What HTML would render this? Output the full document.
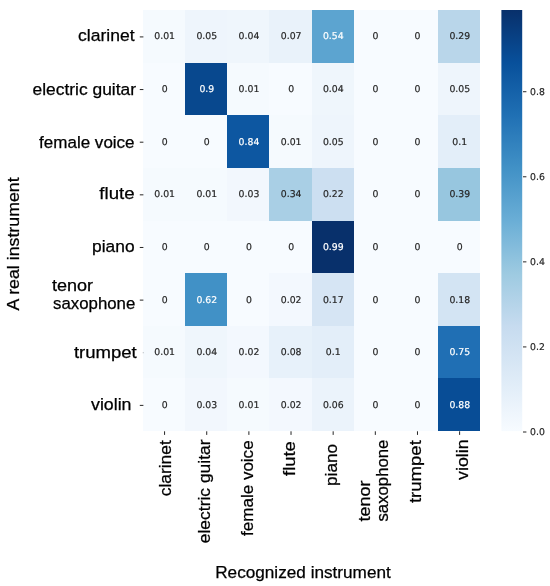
<!DOCTYPE html>
<html lang="en">
<head>
<meta charset="utf-8">
<title>Confusion matrix of recognized instruments</title>
<style>
html,body{margin:0;padding:0;background:#fff;}
body{width:550px;height:586px;overflow:hidden;}
svg{display:block;}
.ann{font-family:"DejaVu Sans","Liberation Sans",sans-serif;font-size:9.3px;text-anchor:middle;text-rendering:geometricPrecision;}
.cbt{font-family:"DejaVu Sans","Liberation Sans",sans-serif;font-size:9.3px;fill:#262626;stroke:#262626;stroke-width:0.2px;text-rendering:geometricPrecision;}
.lab{font-family:"Liberation Sans",sans-serif;font-size:16.8px;fill:#000;stroke:#000;stroke-width:0.25px;}
.tit{font-family:"Liberation Sans",sans-serif;font-size:16.9px;fill:#000;stroke:#000;stroke-width:0.25px;}
.k{fill:#262626;stroke:#262626;stroke-width:0.2px;}
.w{fill:#ffffff;stroke:#ffffff;stroke-width:0.2px;}
.tk{stroke:#262626;stroke-width:1;}
</style>
</head>
<body>
<svg width="550" height="586" viewBox="0 0 550 586">
<rect x="0" y="0" width="550" height="586" fill="#ffffff"/>

<defs><linearGradient id="blues" x1="0" y1="1" x2="0" y2="0">
<stop offset="0" stop-color="#f7fbff"/>
<stop offset="0.125" stop-color="#deebf7"/>
<stop offset="0.25" stop-color="#c6dbef"/>
<stop offset="0.375" stop-color="#9dcae1"/>
<stop offset="0.5" stop-color="#6aaed6"/>
<stop offset="0.625" stop-color="#4191c6"/>
<stop offset="0.75" stop-color="#2070b4"/>
<stop offset="0.875" stop-color="#08509b"/>
<stop offset="1" stop-color="#08306b"/>
</linearGradient></defs>

<g shape-rendering="crispEdges">
<rect x="143" y="10" width="337.2" height="421.1" fill="#f7fbff"/>
<rect x="143.00" y="10.00" width="42.15" height="52.64" fill="#f5fafe"/>
<rect x="185.15" y="10.00" width="42.15" height="52.64" fill="#eef5fc"/>
<rect x="227.30" y="10.00" width="42.15" height="52.64" fill="#eff6fc"/>
<rect x="269.45" y="10.00" width="42.15" height="52.64" fill="#e9f2fa"/>
<rect x="311.60" y="10.00" width="42.15" height="52.64" fill="#5ca4d0"/>
<rect x="438.05" y="10.00" width="42.15" height="52.64" fill="#b9d6ea"/>
<rect x="185.15" y="62.64" width="42.15" height="52.64" fill="#08488e"/>
<rect x="227.30" y="62.64" width="42.15" height="52.64" fill="#f5fafe"/>
<rect x="311.60" y="62.64" width="42.15" height="52.64" fill="#eff6fc"/>
<rect x="438.05" y="62.64" width="42.15" height="52.64" fill="#eef5fc"/>
<rect x="227.30" y="115.28" width="42.15" height="52.64" fill="#0d57a1"/>
<rect x="269.45" y="115.28" width="42.15" height="52.64" fill="#f5fafe"/>
<rect x="311.60" y="115.28" width="42.15" height="52.64" fill="#eef5fc"/>
<rect x="438.05" y="115.28" width="42.15" height="52.64" fill="#e3eef9"/>
<rect x="143.00" y="167.91" width="42.15" height="52.64" fill="#f5fafe"/>
<rect x="185.15" y="167.91" width="42.15" height="52.64" fill="#f5fafe"/>
<rect x="227.30" y="167.91" width="42.15" height="52.64" fill="#f2f7fd"/>
<rect x="269.45" y="167.91" width="42.15" height="52.64" fill="#a9cfe5"/>
<rect x="311.60" y="167.91" width="42.15" height="52.64" fill="#ccdff1"/>
<rect x="438.05" y="167.91" width="42.15" height="52.64" fill="#97c6df"/>
<rect x="311.60" y="220.55" width="42.15" height="52.64" fill="#08306b"/>
<rect x="185.15" y="273.19" width="42.15" height="52.64" fill="#4191c6"/>
<rect x="269.45" y="273.19" width="42.15" height="52.64" fill="#f3f8fe"/>
<rect x="311.60" y="273.19" width="42.15" height="52.64" fill="#d6e5f4"/>
<rect x="438.05" y="273.19" width="42.15" height="52.64" fill="#d3e4f3"/>
<rect x="143.00" y="325.83" width="42.15" height="52.64" fill="#f5fafe"/>
<rect x="185.15" y="325.83" width="42.15" height="52.64" fill="#eff6fc"/>
<rect x="227.30" y="325.83" width="42.15" height="52.64" fill="#f3f8fe"/>
<rect x="269.45" y="325.83" width="42.15" height="52.64" fill="#e7f1fa"/>
<rect x="311.60" y="325.83" width="42.15" height="52.64" fill="#e3eef9"/>
<rect x="438.05" y="325.83" width="42.15" height="52.64" fill="#206fb4"/>
<rect x="185.15" y="378.46" width="42.15" height="52.64" fill="#f2f7fd"/>
<rect x="227.30" y="378.46" width="42.15" height="52.64" fill="#f5fafe"/>
<rect x="269.45" y="378.46" width="42.15" height="52.64" fill="#f3f8fe"/>
<rect x="311.60" y="378.46" width="42.15" height="52.64" fill="#ebf3fb"/>
<rect x="438.05" y="378.46" width="42.15" height="52.64" fill="#084d96"/>
</g>

<g class="ann">
<text x="164.67" y="39.32" class="k">0.01</text>
<text x="206.82" y="39.32" class="k">0.05</text>
<text x="248.97" y="39.32" class="k">0.04</text>
<text x="291.12" y="39.32" class="k">0.07</text>
<text x="333.27" y="39.32" class="w">0.54</text>
<text x="375.43" y="39.32" class="k">0</text>
<text x="417.57" y="39.32" class="k">0</text>
<text x="459.73" y="39.32" class="k">0.29</text>
<text x="164.67" y="91.96" class="k">0</text>
<text x="206.82" y="91.96" class="w">0.9</text>
<text x="248.97" y="91.96" class="k">0.01</text>
<text x="291.12" y="91.96" class="k">0</text>
<text x="333.27" y="91.96" class="k">0.04</text>
<text x="375.43" y="91.96" class="k">0</text>
<text x="417.57" y="91.96" class="k">0</text>
<text x="459.73" y="91.96" class="k">0.05</text>
<text x="164.67" y="144.59" class="k">0</text>
<text x="206.82" y="144.59" class="k">0</text>
<text x="248.97" y="144.59" class="w">0.84</text>
<text x="291.12" y="144.59" class="k">0.01</text>
<text x="333.27" y="144.59" class="k">0.05</text>
<text x="375.43" y="144.59" class="k">0</text>
<text x="417.57" y="144.59" class="k">0</text>
<text x="459.73" y="144.59" class="k">0.1</text>
<text x="164.67" y="197.23" class="k">0.01</text>
<text x="206.82" y="197.23" class="k">0.01</text>
<text x="248.97" y="197.23" class="k">0.03</text>
<text x="291.12" y="197.23" class="k">0.34</text>
<text x="333.27" y="197.23" class="k">0.22</text>
<text x="375.43" y="197.23" class="k">0</text>
<text x="417.57" y="197.23" class="k">0</text>
<text x="459.73" y="197.23" class="k">0.39</text>
<text x="164.67" y="249.87" class="k">0</text>
<text x="206.82" y="249.87" class="k">0</text>
<text x="248.97" y="249.87" class="k">0</text>
<text x="291.12" y="249.87" class="k">0</text>
<text x="333.27" y="249.87" class="w">0.99</text>
<text x="375.43" y="249.87" class="k">0</text>
<text x="417.57" y="249.87" class="k">0</text>
<text x="459.73" y="249.87" class="k">0</text>
<text x="164.67" y="302.51" class="k">0</text>
<text x="206.82" y="302.51" class="w">0.62</text>
<text x="248.97" y="302.51" class="k">0</text>
<text x="291.12" y="302.51" class="k">0.02</text>
<text x="333.27" y="302.51" class="k">0.17</text>
<text x="375.43" y="302.51" class="k">0</text>
<text x="417.57" y="302.51" class="k">0</text>
<text x="459.73" y="302.51" class="k">0.18</text>
<text x="164.67" y="355.14" class="k">0.01</text>
<text x="206.82" y="355.14" class="k">0.04</text>
<text x="248.97" y="355.14" class="k">0.02</text>
<text x="291.12" y="355.14" class="k">0.08</text>
<text x="333.27" y="355.14" class="k">0.1</text>
<text x="375.43" y="355.14" class="k">0</text>
<text x="417.57" y="355.14" class="k">0</text>
<text x="459.73" y="355.14" class="w">0.75</text>
<text x="164.67" y="407.78" class="k">0</text>
<text x="206.82" y="407.78" class="k">0.03</text>
<text x="248.97" y="407.78" class="k">0.01</text>
<text x="291.12" y="407.78" class="k">0.02</text>
<text x="333.27" y="407.78" class="k">0.06</text>
<text x="375.43" y="407.78" class="k">0</text>
<text x="417.57" y="407.78" class="k">0</text>
<text x="459.73" y="407.78" class="w">0.88</text>
</g>

<rect x="501.4" y="10" width="20.8" height="421.1" fill="url(#blues)"/>
<line class="tk" x1="523" y1="432.00" x2="526.4" y2="432.00"/>
<text class="cbt" x="530.1" y="435.39">0.0</text>
<line class="tk" x1="523" y1="346.93" x2="526.4" y2="346.93"/>
<text class="cbt" x="530.1" y="350.32">0.2</text>
<line class="tk" x1="523" y1="261.86" x2="526.4" y2="261.86"/>
<text class="cbt" x="530.1" y="265.25">0.4</text>
<line class="tk" x1="523" y1="176.79" x2="526.4" y2="176.79"/>
<text class="cbt" x="530.1" y="180.18">0.6</text>
<line class="tk" x1="523" y1="91.72" x2="526.4" y2="91.72"/>
<text class="cbt" x="530.1" y="95.11">0.8</text>


<line class="tk" x1="139.8" y1="36.92" x2="143.4" y2="36.92"/>
<line class="tk" x1="139.8" y1="89.56" x2="143.4" y2="89.56"/>
<line class="tk" x1="139.8" y1="142.19" x2="143.4" y2="142.19"/>
<line class="tk" x1="139.8" y1="194.83" x2="143.4" y2="194.83"/>
<line class="tk" x1="139.8" y1="247.47" x2="143.4" y2="247.47"/>
<line class="tk" x1="139.8" y1="300.11" x2="143.4" y2="300.11"/>
<line x1="142.8" y1="352.74" x2="143.6" y2="352.74" stroke="#9a9ea3" stroke-width="1"/>
<line class="tk" x1="139.8" y1="405.38" x2="143.4" y2="405.38"/>
<line class="tk" x1="164.57" y1="431.3" x2="164.57" y2="434.9"/>
<line class="tk" x1="206.72" y1="431.3" x2="206.72" y2="434.9"/>
<line class="tk" x1="248.88" y1="431.3" x2="248.88" y2="434.9"/>
<line class="tk" x1="291.02" y1="431.3" x2="291.02" y2="434.9"/>
<line class="tk" x1="333.17" y1="431.3" x2="333.17" y2="434.9"/>
<line class="tk" x1="375.32" y1="431.3" x2="375.32" y2="434.9"/>
<line class="tk" x1="417.47" y1="431.3" x2="417.47" y2="434.9"/>
<line class="tk" x1="459.62" y1="431.3" x2="459.62" y2="434.9"/>


<text class="lab" x="78.1" y="41.2" textLength="56.5" lengthAdjust="spacingAndGlyphs">clarinet</text>
<text class="lab" x="32.5" y="95.1" textLength="103.5" lengthAdjust="spacingAndGlyphs">electric guitar</text>
<text class="lab" x="39.1" y="148.3" textLength="95.5" lengthAdjust="spacingAndGlyphs">female voice</text>
<text class="lab" x="99.3" y="198.7" textLength="35.3" lengthAdjust="spacingAndGlyphs">flute</text>
<text class="lab" x="92.1" y="251.6" textLength="42.5" lengthAdjust="spacingAndGlyphs">piano</text>
<text class="lab" x="51.9" y="291.1" textLength="41.1" lengthAdjust="spacingAndGlyphs">tenor</text>
<text class="lab" x="53.0" y="309.1" textLength="82.3" lengthAdjust="spacingAndGlyphs">saxophone</text>
<text class="lab" x="73.9" y="358.3" textLength="62.9" lengthAdjust="spacingAndGlyphs">trumpet</text>
<text class="lab" x="91.0" y="410.3" textLength="40.5" lengthAdjust="spacingAndGlyphs">violin</text>


<text class="lab" transform="translate(171.4 496.3) rotate(-90)" textLength="56.1" lengthAdjust="spacingAndGlyphs">clarinet</text>
<text class="lab" transform="translate(210.4 543.2) rotate(-90)" textLength="103.7" lengthAdjust="spacingAndGlyphs">electric guitar</text>
<text class="lab" transform="translate(253.2 535.9) rotate(-90)" textLength="95.5" lengthAdjust="spacingAndGlyphs">female voice</text>
<text class="lab" transform="translate(295.1 475.9) rotate(-90)" textLength="34.7" lengthAdjust="spacingAndGlyphs">flute</text>
<text class="lab" transform="translate(336.8 485.9) rotate(-90)" textLength="41.9" lengthAdjust="spacingAndGlyphs">piano</text>
<text class="lab" transform="translate(370.4 521.5) rotate(-90)" textLength="41.1" lengthAdjust="spacingAndGlyphs">tenor</text>
<text class="lab" transform="translate(387.8 521.5) rotate(-90)" textLength="81.9" lengthAdjust="spacingAndGlyphs">saxophone</text>
<text class="lab" transform="translate(420.5 503.1) rotate(-90)" textLength="62.9" lengthAdjust="spacingAndGlyphs">trumpet</text>
<text class="lab" transform="translate(467.7 479.9) rotate(-90)" textLength="40.5" lengthAdjust="spacingAndGlyphs">violin</text>


<text class="tit" transform="translate(19.0 310.6) rotate(-90)" textLength="133.2" lengthAdjust="spacingAndGlyphs">A real instrument</text>
<text class="tit" x="215.2" y="578.2" textLength="175.6" lengthAdjust="spacingAndGlyphs">Recognized instrument</text>
</svg>
</body>
</html>
